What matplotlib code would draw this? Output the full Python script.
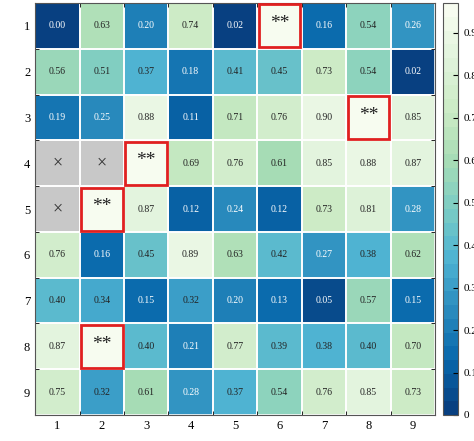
import numpy as np
import matplotlib.pyplot as plt
from matplotlib.patches import Rectangle

plt.rcParams['font.family'] = 'Liberation Serif'

# matrix values, nan = excluded (x), star = significant (**)
values = [
    [0.00, 0.63, 0.20, 0.74, 0.02, 0.97, 0.16, 0.54, 0.26],
    [0.56, 0.51, 0.37, 0.18, 0.41, 0.45, 0.73, 0.54, 0.02],
    [0.19, 0.25, 0.88, 0.11, 0.71, 0.76, 0.90, 0.97, 0.85],
    [np.nan, np.nan, 0.97, 0.69, 0.76, 0.61, 0.85, 0.88, 0.87],
    [np.nan, 0.97, 0.87, 0.12, 0.24, 0.12, 0.73, 0.81, 0.28],
    [0.76, 0.16, 0.45, 0.89, 0.63, 0.42, 0.27, 0.38, 0.62],
    [0.40, 0.34, 0.15, 0.32, 0.20, 0.13, 0.05, 0.57, 0.15],
    [0.87, 0.97, 0.40, 0.21, 0.77, 0.39, 0.38, 0.40, 0.70],
    [0.75, 0.32, 0.61, 0.28, 0.37, 0.54, 0.76, 0.85, 0.73],
]
starred = [(0, 5), (2, 7), (3, 2), (4, 1), (7, 1)]
labels = [str(i) for i in range(1, 10)]

data = np.array(values)
n = data.shape[0]

fig = plt.figure(figsize=(4.74, 4.41), dpi=100)
ax = fig.add_axes([0.074, 0.059, 0.844, 0.934])
cax = fig.add_axes([0.935, 0.059, 0.032, 0.934])

cmap = plt.get_cmap('GnBu_r', 30).copy()
cmap.set_bad('#c8c8c8')
im = ax.imshow(np.ma.masked_invalid(data), cmap=cmap, vmin=0, vmax=0.97, aspect='auto')

for i in range(n):
    for j in range(n):
        ax.add_patch(Rectangle((j - 0.5, i - 0.5), 1, 1, fill=False, ec='white', lw=1.2))
        v = data[i, j]
        if (i, j) in starred:
            continue
        if np.isnan(v):
            ax.text(j, i, '×', ha='center', va='center', fontsize=13, color='#333333')
        else:
            ax.text(j, i, f'{v:.2f}', ha='center', va='center', fontsize=7,
                    color='white' if v < 0.3 else '#222222')

for i, j in starred:
    ax.add_patch(Rectangle((j - 0.47, i - 0.47), 0.94, 0.94, fill=False, ec='#e02020', lw=2, zorder=5))
    ax.text(j, i - 0.05, '**', ha='center', va='center', fontsize=14, color='#222222')

ax.set_xticks(range(n))
ax.set_yticks(range(n))
ax.set_xticklabels(labels)
ax.set_yticklabels(labels)
ax.set_xticks(np.arange(-0.5, n, 1), minor=True)
ax.set_yticks(np.arange(-0.5, n, 1), minor=True)
ax.tick_params(which='both', direction='in', top=True, right=True, labelsize=9)
ax.tick_params(which='major', length=0)
ax.tick_params(which='minor', length=3)
for s in ax.spines.values():
    s.set_color('#555555')

cb = fig.colorbar(im, cax=cax)
cb.set_ticks(np.arange(0, 0.91, 0.1))
cb.set_ticklabels(['0'] + [f'{t:.1f}' for t in np.arange(0.1, 0.91, 0.1)])
cb.ax.tick_params(labelsize=8, direction='in')
cb.outline.set_edgecolor('#555555')

fig.savefig('out.png', dpi=100)
